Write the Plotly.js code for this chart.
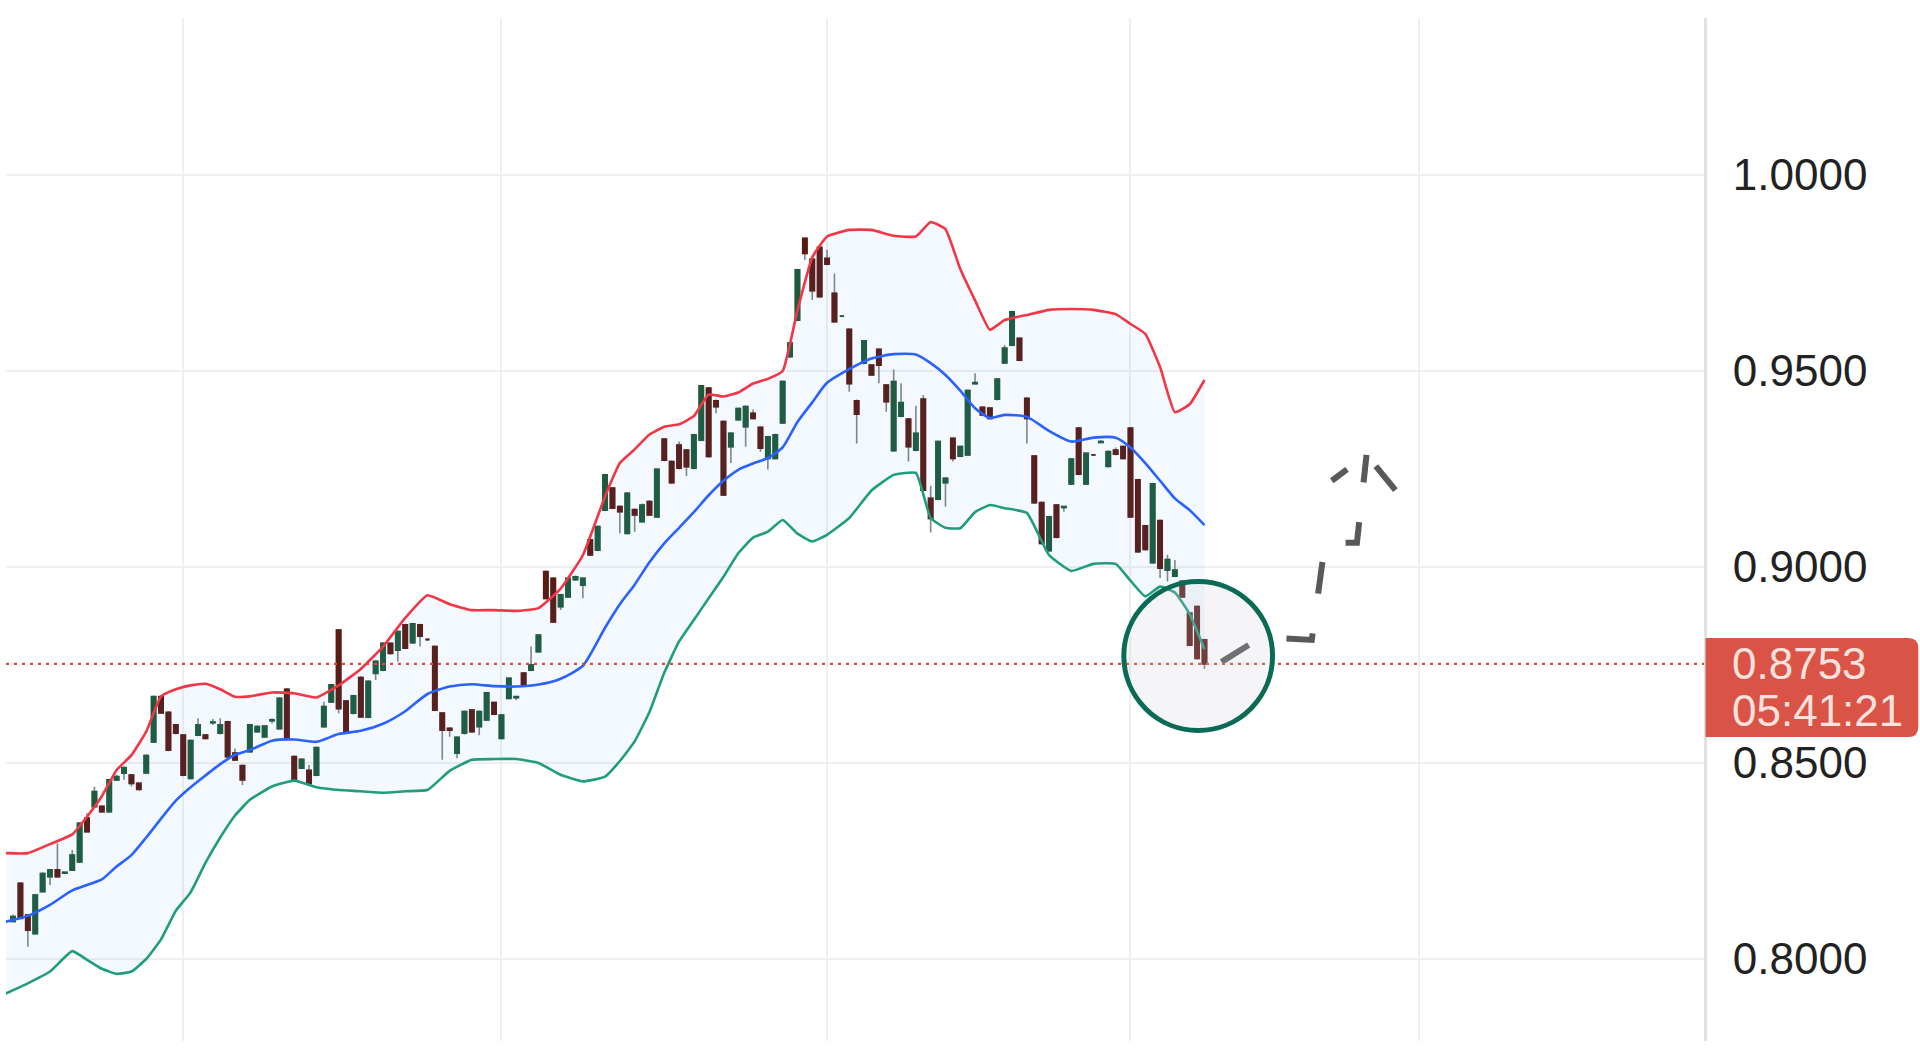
<!DOCTYPE html>
<html>
<head>
<meta charset="utf-8">
<script src="https://cdn.plot.ly/plotly-3.0.1.min.js"></script>
<style>
  html, body { margin: 0; padding: 0; background: #ffffff; }
  #chart { width: 1920px; height: 1056px; }
</style>
</head>
<body>
<div id="chart"></div>
<script>
// ---------- candle data (bar index = position on the time axis) ----------
const openP = [
0.8096,0.8193,0.8112,0.8065,0.8172,0.8210,0.8227,0.8219,0.8227,0.8248,
0.8359,0.8389,0.8389,0.8376,0.8457,0.8474,0.8469,0.8448,0.8475,0.8554,
0.8669,0.8629,0.8597,0.8571,0.8461,0.8571,0.8571,0.8603,0.8576,0.8605,
0.8525,0.8493,0.8529,0.8580,0.8567,0.8608,0.8588,0.8688,0.8516,0.8487,
0.8481,0.8469,0.8593,0.8656,0.8839,0.8658,0.8627,0.8718,0.8617,0.8729,
0.8737,0.8805,0.8788,0.8852,0.8807,0.8852,0.8815,0.8797,0.8627,0.8588,
0.8525,0.8576,0.8635,0.8593,0.8610,0.8654,0.8563,0.8665,0.8667,0.8729,
0.8737,0.8784,0.8988,0.8971,0.8899,0.8924,0.8968,0.8954,0.9069,0.9043,
0.9145,0.9201,0.9154,0.9086,0.9146,0.9116,0.9167,0.9128,0.9326,0.9269,
0.9311,0.9298,0.9252,0.9324,0.9456,0.9424,0.9371,0.9307,0.9376,0.9358,
0.9392,0.9356,0.9277,0.9277,0.9368,0.9537,0.9630,0.9838,0.9785,0.9815,
0.9787,0.9698,0.9640,0.9606,0.9424,0.9520,0.9515,0.9555,0.9464,0.9297,
0.9385,0.9377,0.9298,0.9428,0.9175,0.9173,0.9215,0.9328,0.9283,0.9286,
0.9468,0.9407,0.9405,0.9428,0.9521,0.9566,0.9583,0.9430,0.9283,0.9164,
0.9042,0.9158,0.9152,0.9212,0.9354,0.9212,0.9286,0.9318,0.9257,0.9298,
0.9307,0.9354,0.9222,0.9105,0.9011,0.9118,0.8992,0.8977,0.8963,0.8882,
0.8899,0.8814];
const highP = [
0.8113,0.8196,0.8115,0.8166,0.8221,0.8229,0.8295,0.8223,0.8278,0.8349,
0.8372,0.8440,0.8392,0.8460,0.8470,0.8491,0.8472,0.8451,0.8522,0.8672,
0.8672,0.8632,0.8600,0.8574,0.8560,0.8614,0.8574,0.8612,0.8614,0.8608,
0.8537,0.8496,0.8600,0.8596,0.8597,0.8614,0.8668,0.8691,0.8519,0.8512,
0.8495,0.8542,0.8656,0.8702,0.8842,0.8661,0.8674,0.8721,0.8711,0.8762,
0.8808,0.8808,0.8838,0.8855,0.8858,0.8855,0.8818,0.8800,0.8630,0.8591,
0.8568,0.8634,0.8638,0.8634,0.8682,0.8657,0.8625,0.8719,0.8671,0.8732,
0.8797,0.8829,0.8991,0.8974,0.8932,0.8974,0.8978,0.8974,0.9072,0.9106,
0.9238,0.9204,0.9157,0.9191,0.9149,0.9162,0.9170,0.9252,0.9329,0.9272,
0.9320,0.9301,0.9340,0.9465,0.9459,0.9427,0.9374,0.9344,0.9407,0.9412,
0.9402,0.9359,0.9335,0.9340,0.9476,0.9574,0.9761,0.9841,0.9788,0.9818,
0.9809,0.9749,0.9643,0.9609,0.9427,0.9580,0.9518,0.9558,0.9467,0.9504,
0.9469,0.9380,0.9411,0.9439,0.9207,0.9323,0.9229,0.9331,0.9310,0.9453,
0.9494,0.9410,0.9408,0.9482,0.9566,0.9654,0.9586,0.9433,0.9286,0.9167,
0.9131,0.9161,0.9156,0.9278,0.9357,0.9293,0.9288,0.9324,0.9297,0.9305,
0.9310,0.9357,0.9225,0.9108,0.9215,0.9121,0.9031,0.9018,0.8966,0.8885,
0.8902,0.8817];
const lowP = [
0.8094,0.8102,0.8031,0.8062,0.8170,0.8189,0.8207,0.8217,0.8225,0.8245,
0.8322,0.8386,0.8373,0.8373,0.8454,0.8457,0.8440,0.8430,0.8472,0.8551,
0.8625,0.8530,0.8573,0.8466,0.8458,0.8568,0.8560,0.8597,0.8573,0.8513,
0.8505,0.8444,0.8526,0.8577,0.8564,0.8601,0.8585,0.8560,0.8454,0.8484,
0.8445,0.8466,0.8590,0.8653,0.8627,0.8577,0.8624,0.8615,0.8614,0.8712,
0.8734,0.8777,0.8758,0.8790,0.8804,0.8797,0.8812,0.8632,0.8508,0.8567,
0.8512,0.8573,0.8577,0.8571,0.8607,0.8622,0.8560,0.8662,0.8660,0.8696,
0.8734,0.8781,0.8917,0.8857,0.8890,0.8921,0.8965,0.8920,0.9028,0.9040,
0.9142,0.9147,0.9086,0.9083,0.9090,0.9113,0.9130,0.9125,0.9270,0.9212,
0.9249,0.9232,0.9249,0.9321,0.9279,0.9392,0.9181,0.9265,0.9373,0.9307,
0.9376,0.9294,0.9249,0.9274,0.9365,0.9534,0.9627,0.9783,0.9681,0.9687,
0.9770,0.9623,0.9637,0.9447,0.9315,0.9517,0.9487,0.9469,0.9396,0.9294,
0.9382,0.9269,0.9295,0.9193,0.9088,0.9170,0.9154,0.9269,0.9280,0.9283,
0.9465,0.9385,0.9376,0.9425,0.9518,0.9563,0.9525,0.9315,0.9161,0.9057,
0.9039,0.9073,0.9141,0.9209,0.9234,0.9209,0.9284,0.9316,0.9254,0.9285,
0.9274,0.9125,0.9036,0.9042,0.9008,0.8972,0.8963,0.8974,0.8921,0.8798,
0.8764,0.8740];
const closeP = [
0.8108,0.8104,0.8074,0.8163,0.8218,0.8227,0.8210,0.8221,0.8265,0.8346,
0.8325,0.8427,0.8376,0.8457,0.8465,0.8488,0.8448,0.8433,0.8519,0.8669,
0.8628,0.8533,0.8576,0.8469,0.8557,0.8597,0.8563,0.8604,0.8597,0.8516,
0.8508,0.8457,0.8597,0.8593,0.8594,0.8610,0.8665,0.8563,0.8457,0.8509,
0.8448,0.8539,0.8644,0.8699,0.8639,0.8580,0.8671,0.8618,0.8708,0.8759,
0.8805,0.8780,0.8835,0.8793,0.8855,0.8824,0.8815,0.8635,0.8584,0.8584,
0.8565,0.8631,0.8580,0.8631,0.8679,0.8625,0.8622,0.8716,0.8669,0.8699,
0.8750,0.8826,0.8920,0.8860,0.8929,0.8971,0.8975,0.8971,0.9031,0.9103,
0.9235,0.9150,0.9141,0.9188,0.9133,0.9158,0.9133,0.9249,0.9273,0.9215,
0.9252,0.9256,0.9337,0.9462,0.9282,0.9409,0.9184,0.9341,0.9404,0.9409,
0.9379,0.9303,0.9332,0.9337,0.9473,0.9571,0.9758,0.9800,0.9705,0.9690,
0.9773,0.9626,0.9640,0.9468,0.9390,0.9577,0.9490,0.9515,0.9422,0.9473,
0.9419,0.9307,0.9341,0.9196,0.9124,0.9320,0.9226,0.9277,0.9307,0.9450,
0.9470,0.9388,0.9379,0.9479,0.9558,0.9651,0.9528,0.9379,0.9164,0.9060,
0.9128,0.9076,0.9154,0.9275,0.9237,0.9290,0.9286,0.9320,0.9294,0.9288,
0.9277,0.9128,0.9039,0.9045,0.9212,0.8997,0.9019,0.8992,0.8924,0.8801,
0.8767,0.8753];

// ---------- Bollinger band readings (sampled bar positions) ----------
const bandIdx = [-1,2,5,8,10,12,14,16,18,20,22,24,26,28,30,32,35,38,41,44,47,50,53,56,59,62,65,68,71,74,77,80,82,84,86,88,90,92,94,96,98,100,102,104,106,108,110,113,116,119,122,124,126,128,130,132,134,137,140,143,146,149,151,153,155,157,159,161];
const upperBand = [0.8270,0.8270,0.8293,0.8318,0.8363,0.8415,0.8482,0.8520,0.8580,0.8670,0.8688,0.8698,0.8702,0.8688,0.8669,0.8670,0.8680,0.8678,0.8667,0.8698,0.8740,0.8797,0.8870,0.8928,0.8905,0.8890,0.8890,0.8888,0.8895,0.8945,0.9030,0.9180,0.9265,0.9300,0.9338,0.9358,0.9364,0.9385,0.9440,0.9435,0.9445,0.9468,0.9480,0.9500,0.9655,0.9790,0.9843,0.9860,0.9860,0.9845,0.9843,0.9880,0.9862,0.9760,0.9680,0.9605,0.9630,0.9643,0.9656,0.9658,0.9656,0.9645,0.9620,0.9595,0.9510,0.9395,0.9415,0.9477];
const middleBand = [0.8095,0.8110,0.8138,0.8175,0.8189,0.8203,0.8236,0.8265,0.8310,0.8358,0.8404,0.8438,0.8468,0.8497,0.8521,0.8533,0.8557,0.8560,0.8554,0.8574,0.8582,0.8600,0.8632,0.8676,0.8695,0.8701,0.8696,0.8695,0.8700,0.8715,0.8748,0.8845,0.8905,0.8955,0.9012,0.9060,0.9100,0.9140,0.9183,0.9220,0.9248,0.9264,0.9278,0.9305,0.9370,0.9420,0.9470,0.9505,0.9532,0.9543,0.9542,0.9520,0.9490,0.9450,0.9405,0.9380,0.9388,0.9383,0.9347,0.9320,0.9330,0.9330,0.9305,0.9265,0.9220,0.9175,0.9145,0.9107];
const lowerBand = [0.7912,0.7938,0.7968,0.8020,0.7998,0.7975,0.7962,0.7968,0.8000,0.8050,0.8123,0.8170,0.8245,0.8310,0.8366,0.8406,0.8440,0.8455,0.8438,0.8431,0.8428,0.8424,0.8428,0.8431,0.8480,0.8508,0.8510,0.8510,0.8500,0.8470,0.8453,0.8465,0.8505,0.8555,0.8630,0.8730,0.8810,0.8865,0.8920,0.8975,0.9035,0.9075,0.9090,0.9120,0.9085,0.9065,0.9082,0.9125,0.9195,0.9235,0.9240,0.9125,0.9100,0.9099,0.9140,0.9158,0.9150,0.9138,0.9030,0.8990,0.9008,0.9008,0.8965,0.8925,0.8950,0.8935,0.8880,0.8790];

// ---------- axis / labels ----------
const priceTicks = [0.80, 0.85, 0.90, 0.95, 1.00];
const priceTickText = ['0.8000', '0.8500', '0.9000', '0.9500', '1.0000'];
const timeGrid = [23, 66, 110, 151, 190];
const lastPrice = 0.8753;
const lastPriceText = '0.8753';
const countdownText = '05:41:21';

// ---------- hand-drawn forecast arrow and highlight circle ----------
const arrowX = [163.3, 168.7, 175.5, 177.3, 181.6, 182.9];
const arrowY = [0.8758, 0.8821, 0.8814, 0.9062, 0.9062, 0.9286];
const wingLeftX = [178.2, 182.9];
const wingLeftY = [0.9220, 0.9286];
const wingRightX = [186.8, 182.9];
const wingRightY = [0.9196, 0.9286];
const circleX = [150.1, 170.2];
const circleY = [0.8583, 0.8963];

// ---------- build ----------
const GREEN = '#1f5a3c';
const RED = '#5b1b15';
const yMin = 0.77908, yMax = 1.04005;
const barIdx = openP.map((_, i) => i);
const bodyHigh = openP.map((o, i) => Math.max(o, closeP[i]));
const bodyLow = openP.map((o, i) => Math.min(o, closeP[i]));
const py = v => (v - yMin) / (yMax - yMin);

const traces = [
  { type: 'scatter', mode: 'lines', x: bandIdx, y: lowerBand, line: { width: 0 }, hoverinfo: 'skip' },
  { type: 'scatter', mode: 'lines', x: bandIdx, y: upperBand, line: { width: 0 }, fill: 'tonexty',
    fillcolor: 'rgba(33,150,243,0.055)', hoverinfo: 'skip' },
  { type: 'scatter', mode: 'lines', x: bandIdx, y: middleBand, line: { color: '#2962FF', width: 2.6, shape: 'spline', smoothing: 0.6 } },
  { type: 'scatter', mode: 'lines', x: bandIdx, y: upperBand, line: { color: '#F23645', width: 2.6, shape: 'spline', smoothing: 0.4 } },
  { type: 'scatter', mode: 'lines', x: bandIdx, y: lowerBand, line: { color: '#1f9d7c', width: 2.6, shape: 'spline', smoothing: 0.4 } },
  { type: 'candlestick', x: barIdx, open: openP, high: highP, low: lowP, close: closeP, whiskerwidth: 0,
    increasing: { line: { color: '#858585', width: 1.6 }, fillcolor: 'rgba(0,0,0,0)' },
    decreasing: { line: { color: '#858585', width: 1.6 }, fillcolor: 'rgba(0,0,0,0)' } },
  { type: 'candlestick', x: barIdx, open: openP, high: bodyHigh, low: bodyLow, close: closeP, whiskerwidth: 0,
    increasing: { line: { color: GREEN, width: 1.8 }, fillcolor: GREEN },
    decreasing: { line: { color: RED, width: 1.8 }, fillcolor: RED } },
  { type: 'scatter', mode: 'lines', x: arrowX, y: arrowY, line: { color: '#58595b', width: 6, dash: '32px,40px' } },
  { type: 'scatter', mode: 'lines', x: wingLeftX, y: wingLeftY, line: { color: '#58595b', width: 6, dash: '19px,100px' } },
  { type: 'scatter', mode: 'lines', x: wingRightX, y: wingRightY, line: { color: '#58595b', width: 6, dash: '31px,100px' } }
];

const rx = 10 / 1698, ry = 10 / 1023;
const bx0 = 1.0009, bx1 = 1.1262;
const bTop = py(0.8819), bBot = py(0.8566);
const boxPath = `M ${bx0} ${bBot} L ${bx1 - rx} ${bBot} Q ${bx1} ${bBot} ${bx1} ${bBot + ry} ` +
                `L ${bx1} ${bTop - ry} Q ${bx1} ${bTop} ${bx1 - rx} ${bTop} L ${bx0} ${bTop} Z`;

const tickFont = { family: '"Liberation Sans", Arial, Helvetica, sans-serif', size: 44, color: '#222222' };

const layout = {
  width: 1920, height: 1056,
  margin: { l: 6, r: 216, t: 18, b: 15, pad: 0 },
  paper_bgcolor: '#ffffff', plot_bgcolor: '#ffffff',
  showlegend: false, hovermode: false, dragmode: false,
  boxgap: 0.2,
  xaxis: {
    range: [-0.95, 228.5], tickmode: 'array', tickvals: timeGrid, showticklabels: false,
    showgrid: true, gridcolor: '#efefef', gridwidth: 2, zeroline: false, showline: false,
    ticks: '', rangeslider: { visible: false }, fixedrange: true
  },
  yaxis: {
    range: [yMin, yMax], side: 'right', tickmode: 'array', tickvals: priceTicks, ticktext: priceTickText,
    showgrid: true, gridcolor: '#efefef', gridwidth: 2, zeroline: false,
    showline: true, linecolor: '#e2e2e4', linewidth: 3, ticks: '', ticklabelstandoff: 17,
    tickfont: tickFont, fixedrange: true
  },
  shapes: [
    { type: 'line', xref: 'paper', yref: 'y', x0: 0, x1: 1, y0: lastPrice, y1: lastPrice,
      line: { color: '#e0463a', width: 2.2, dash: '3px,5px' }, layer: 'above' },
    { type: 'circle', xref: 'x', yref: 'y', x0: circleX[0], x1: circleX[1], y0: circleY[0], y1: circleY[1],
      fillcolor: 'rgba(205,205,220,0.2)', line: { color: '#0b6a56', width: 5 }, layer: 'above' },
    { type: 'path', xref: 'paper', yref: 'paper', path: boxPath, fillcolor: '#d95446', line: { width: 0 }, layer: 'above' }
  ],
  annotations: [
    { xref: 'paper', yref: 'y', x: 1.0153, y: lastPrice, xanchor: 'left', yanchor: 'middle', showarrow: false,
      text: lastPriceText, font: { family: tickFont.family, size: 44, color: '#fbe2de' } },
    { xref: 'paper', yref: 'y', x: 1.0153, y: 0.8635, xanchor: 'left', yanchor: 'middle', showarrow: false,
      text: countdownText, font: { family: tickFont.family, size: 44, color: '#fbe2de' } }
  ]
};

Plotly.newPlot('chart', traces, layout, { displayModeBar: false, staticPlot: true });
</script>
</body>
</html>
